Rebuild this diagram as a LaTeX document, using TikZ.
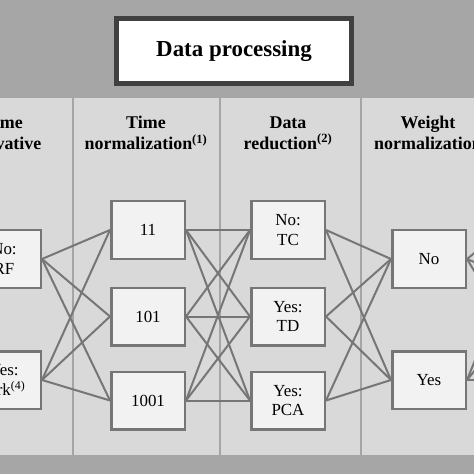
\documentclass[tikz,border=0pt]{standalone}
\usepackage{fontspec}
\setmainfont{Liberation Serif}
\usepackage{tikz}

\definecolor{bggray}{RGB}{166,166,166}
\definecolor{panelgray}{RGB}{217,217,217}
\definecolor{boxfill}{RGB}{242,242,242}
\definecolor{boxline}{RGB}{118,118,118}
\definecolor{divgray}{RGB}{165,165,165}
\definecolor{titleline}{RGB}{64,64,64}

\begin{document}
\begin{tikzpicture}[x = 1bp, y = -1bp,
    optbox/.style = {draw = boxline, fill = boxfill, line width = 2.5bp,
      minimum width = 73.5bp, minimum height = 57.5bp, align = center,
      font = \fontsize{17}{20}\selectfont},
    header/.style = {align = center, font = \fontsize{18}{21}\selectfont\bfseries},
    link/.style = {boxline, line width = 2bp}]

            \useasboundingbox (0,0) rectangle (474,474);
            \clip (0,0) rectangle (474,474);
            \fill [bggray] (0,0) rectangle (474,474);
            \fill [panelgray] (0,98) rectangle (474,455);
            \foreach \x in {73,220,361} {
              \draw [divgray, line width = 2bp] (\x,98) -- (\x,455);
            }

            \node [draw = titleline, fill = white, line width = 5bp, minimum width = 235bp,
              minimum height = 65bp, font = \fontsize{23}{26}\selectfont\bfseries] (title) at (234,51) {Data processing};

            \node [header] (hderiv) at (3,133) {Time\\derivative};
            \node [header] (htime) at (146,133) {Time\\normalization\textsuperscript{(1)}};
            \node [header] (hred) at (288,133) {Data\\reduction\textsuperscript{(2)}};
            \node [header] (hweight) at (428,133) {Weight\\normalization};

            \node [optbox] (dno) at (4,259) {No:\\RF};
            \node [optbox] (dyes) at (4,380) {Yes:\\Jerk\textsuperscript{(4)}};

            \node [optbox] (t11) at (148,230) {11};
            \node [optbox] (t101) at (148,316.5) {101};
            \node [optbox] (t1001) at (148,400.5) {1001};

            \node [optbox] (rtc) at (288,230) {No:\\TC};
            \node [optbox] (rtd) at (288,316.5) {Yes:\\TD};
            \node [optbox] (rpca) at (288,400.5) {Yes:\\PCA};

            \node [optbox] (wno) at (429,259) {No};
            \node [optbox] (wyes) at (429,380) {Yes};

            \coordinate (next1) at (540,200);
            \coordinate (next2) at (540,290);
            \coordinate (next3) at (540,380);

            \foreach \a in {dno,dyes} {
              \foreach \b in {t11,t101,t1001} {
                \draw [link] (\a.east) -- (\b.west);
              }
            }
            \foreach \a in {t11,t101,t1001} {
              \foreach \b in {rtc,rtd,rpca} {
                \draw [link] (\a.east) -- (\b.west);
              }
            }
            \foreach \a in {rtc,rtd,rpca} {
              \foreach \b in {wno,wyes} {
                \draw [link] (\a.east) -- (\b.west);
              }
            }
            \foreach \a in {wno,wyes} {
              \foreach \b in {next1,next2,next3} {
                \draw [link] (\a.east) -- (\b);
              }
            }
            \end{tikzpicture}
\end{document}
